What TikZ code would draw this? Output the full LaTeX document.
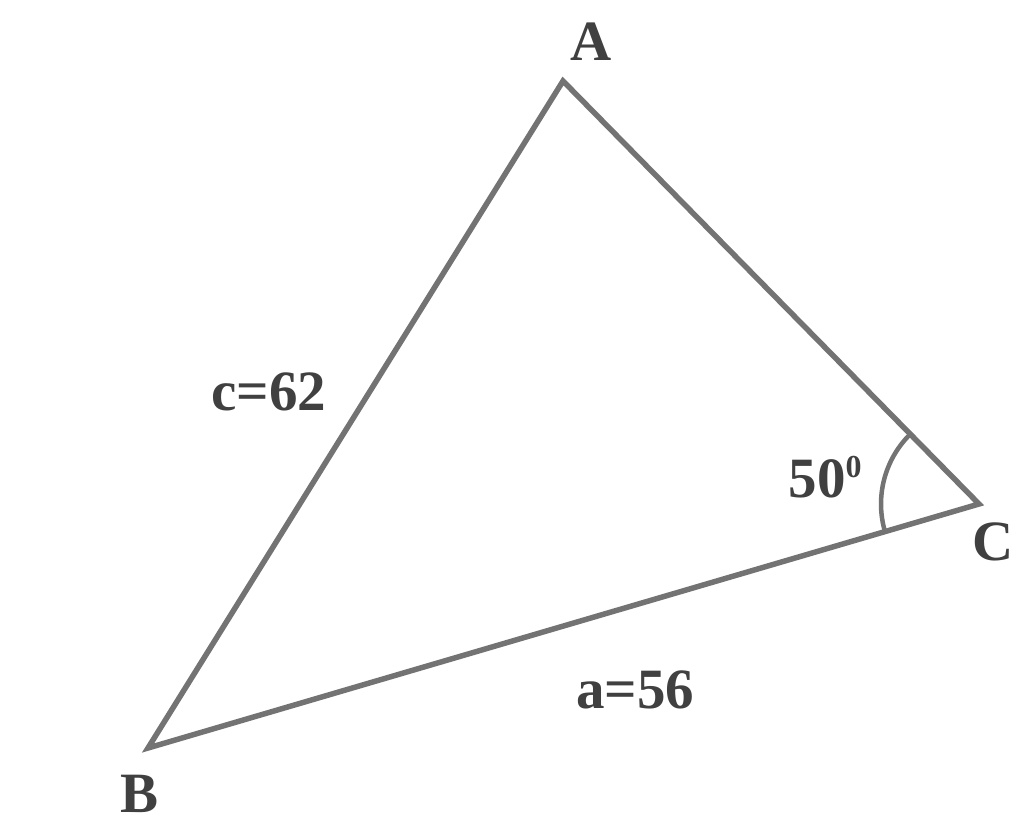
\documentclass[tikz,border=0pt]{standalone}
\usepackage{fontspec}
\setmainfont{Liberation Serif}
\usetikzlibrary{angles}
\definecolor{edgegrey}{HTML}{737373}
\definecolor{textgrey}{HTML}{404040}
\tikzset{
  lbl/.style={text=textgrey, font=\fontsize{57}{60}\selectfont\bfseries, inner sep=0pt},
  side/.style={draw=edgegrey, line width=5.5pt, miter limit=20}
}
\begin{document}
\begin{tikzpicture}[x=1pt,y=1pt]
\useasboundingbox (0,0) rectangle (1024,827);
\coordinate (A) at (563,746);
\coordinate (B) at (148,79);
\coordinate (C) at (979,323);
\draw[side] (A) -- (B) -- (C) -- cycle;
\pic[draw=edgegrey, line width=4.5pt, angle radius=98pt] {angle = A--C--B};
\node[lbl] (la) at (591,785) {A};
\node[lbl] (lb) at (140,33) {B};
\node[lbl] (lc) at (993,285) {C};
\node[lbl] (sc) at (269,435) {c=62};
\node[lbl] (sa) at (635,137) {a=56};
\node[lbl] (ang) at (825,350) {50\raisebox{0.75ex}{\fontsize{32}{32}\selectfont 0}};
\end{tikzpicture}
\end{document}
